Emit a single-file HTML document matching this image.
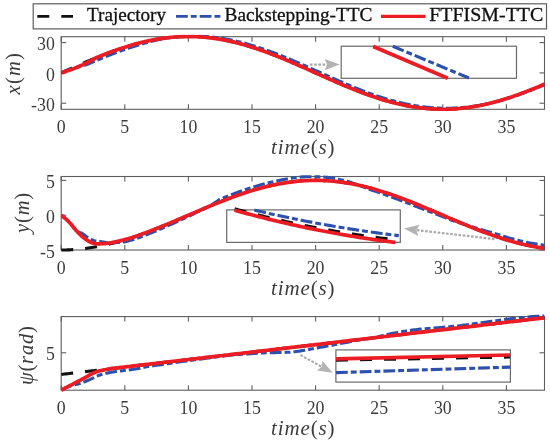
<!DOCTYPE html><html><head><meta charset="utf-8"><style>html,body{margin:0;padding:0;background:#fff;overflow:hidden}svg{display:block}</style></head><body><svg width="550" height="443" viewBox="0 0 550 443">
<rect width="550" height="443" fill="#fff"/>
<defs>
<clipPath id="c0"><rect x="61.2" y="34.7" width="483.3" height="76.6"/></clipPath>
<clipPath id="c1"><rect x="61.2" y="174.5" width="483.3" height="77.5"/></clipPath>
<clipPath id="c2"><rect x="61.2" y="314.6" width="483.3" height="77.59999999999997"/></clipPath>
</defs>
<rect x="61.2" y="36.7" width="483.30" height="72.60" fill="none" stroke="#5e5e5e" stroke-width="1.1"/>
<line x1="61.20" y1="109.3" x2="61.20" y2="104.3" stroke="#5e5e5e" stroke-width="1.1"/>
<line x1="61.20" y1="36.7" x2="61.20" y2="41.7" stroke="#5e5e5e" stroke-width="1.1"/>
<text x="61.20" y="133.20" text-anchor="middle" font-family="Liberation Serif, serif" font-size="17.8" fill="#3c3c3c">0</text>
<line x1="124.80" y1="109.3" x2="124.80" y2="104.3" stroke="#5e5e5e" stroke-width="1.1"/>
<line x1="124.80" y1="36.7" x2="124.80" y2="41.7" stroke="#5e5e5e" stroke-width="1.1"/>
<text x="124.80" y="133.20" text-anchor="middle" font-family="Liberation Serif, serif" font-size="17.8" fill="#3c3c3c">5</text>
<line x1="188.40" y1="109.3" x2="188.40" y2="104.3" stroke="#5e5e5e" stroke-width="1.1"/>
<line x1="188.40" y1="36.7" x2="188.40" y2="41.7" stroke="#5e5e5e" stroke-width="1.1"/>
<text x="188.40" y="133.20" text-anchor="middle" font-family="Liberation Serif, serif" font-size="17.8" fill="#3c3c3c">10</text>
<line x1="252.00" y1="109.3" x2="252.00" y2="104.3" stroke="#5e5e5e" stroke-width="1.1"/>
<line x1="252.00" y1="36.7" x2="252.00" y2="41.7" stroke="#5e5e5e" stroke-width="1.1"/>
<text x="252.00" y="133.20" text-anchor="middle" font-family="Liberation Serif, serif" font-size="17.8" fill="#3c3c3c">15</text>
<line x1="315.60" y1="109.3" x2="315.60" y2="104.3" stroke="#5e5e5e" stroke-width="1.1"/>
<line x1="315.60" y1="36.7" x2="315.60" y2="41.7" stroke="#5e5e5e" stroke-width="1.1"/>
<text x="315.60" y="133.20" text-anchor="middle" font-family="Liberation Serif, serif" font-size="17.8" fill="#3c3c3c">20</text>
<line x1="379.20" y1="109.3" x2="379.20" y2="104.3" stroke="#5e5e5e" stroke-width="1.1"/>
<line x1="379.20" y1="36.7" x2="379.20" y2="41.7" stroke="#5e5e5e" stroke-width="1.1"/>
<text x="379.20" y="133.20" text-anchor="middle" font-family="Liberation Serif, serif" font-size="17.8" fill="#3c3c3c">25</text>
<line x1="442.80" y1="109.3" x2="442.80" y2="104.3" stroke="#5e5e5e" stroke-width="1.1"/>
<line x1="442.80" y1="36.7" x2="442.80" y2="41.7" stroke="#5e5e5e" stroke-width="1.1"/>
<text x="442.80" y="133.20" text-anchor="middle" font-family="Liberation Serif, serif" font-size="17.8" fill="#3c3c3c">30</text>
<line x1="506.40" y1="109.3" x2="506.40" y2="104.3" stroke="#5e5e5e" stroke-width="1.1"/>
<line x1="506.40" y1="36.7" x2="506.40" y2="41.7" stroke="#5e5e5e" stroke-width="1.1"/>
<text x="506.40" y="133.20" text-anchor="middle" font-family="Liberation Serif, serif" font-size="17.8" fill="#3c3c3c">35</text>
<text x="271.1" y="154.10" font-family="Liberation Serif, serif" font-size="21" font-style="italic" fill="#3c3c3c" textLength="63.5" lengthAdjust="spacing">time<tspan font-style="normal">(</tspan>s<tspan font-style="normal">)</tspan></text>
<line x1="61.2" y1="42.60" x2="66.2" y2="42.60" stroke="#5e5e5e" stroke-width="1.1"/>
<line x1="544.5" y1="42.60" x2="539.5" y2="42.60" stroke="#5e5e5e" stroke-width="1.1"/>
<text x="54.8" y="50.20" text-anchor="end" font-family="Liberation Serif, serif" font-size="17.8" fill="#3c3c3c">30</text>
<line x1="61.2" y1="72.90" x2="66.2" y2="72.90" stroke="#5e5e5e" stroke-width="1.1"/>
<line x1="544.5" y1="72.90" x2="539.5" y2="72.90" stroke="#5e5e5e" stroke-width="1.1"/>
<text x="54.8" y="80.50" text-anchor="end" font-family="Liberation Serif, serif" font-size="17.8" fill="#3c3c3c">0</text>
<line x1="61.2" y1="103.20" x2="66.2" y2="103.20" stroke="#5e5e5e" stroke-width="1.1"/>
<line x1="544.5" y1="103.20" x2="539.5" y2="103.20" stroke="#5e5e5e" stroke-width="1.1"/>
<text x="54.8" y="110.80" text-anchor="end" font-family="Liberation Serif, serif" font-size="17.8" fill="#3c3c3c">-30</text>
<g clip-path="url(#c0)" fill="none">
<path d="M61.20,72.90 L62.81,72.18 L64.42,71.45 L66.03,70.73 L67.64,70.01 L69.26,69.29 L70.87,68.57 L72.48,67.85 L74.09,67.14 L75.70,66.42 L77.31,65.71 L78.92,65.01 L80.53,64.30 L82.15,63.60 L83.76,62.90 L85.37,62.21 L86.98,61.52 L88.59,60.83 L90.20,60.15 L91.81,59.48 L93.42,58.81 L95.04,58.15 L96.65,57.49 L98.26,56.84 L99.87,56.19 L101.48,55.55 L103.09,54.92 L104.70,54.29 L106.31,53.68 L107.92,53.07 L109.54,52.46 L111.15,51.87 L112.76,51.28 L114.37,50.71 L115.98,50.14 L117.59,49.58 L119.20,49.03 L120.81,48.49 L122.43,47.95 L124.04,47.43 L125.65,46.92 L127.26,46.42 L128.87,45.93 L130.48,45.45 L132.09,44.98 L133.70,44.52 L135.32,44.08 L136.93,43.64 L138.54,43.22 L140.15,42.81 L141.76,42.41 L143.37,42.02 L144.98,41.64 L146.59,41.28 L148.20,40.93 L149.82,40.59 L151.43,40.26 L153.04,39.95 L154.65,39.65 L156.26,39.37 L157.87,39.09 L159.48,38.83 L161.09,38.59 L162.71,38.36 L164.32,38.14 L165.93,37.93 L167.54,37.74 L169.15,37.56 L170.76,37.40 L172.37,37.25 L173.98,37.11 L175.60,36.99 L177.21,36.89 L178.82,36.79 L180.43,36.72 L182.04,36.65 L183.65,36.60 L185.26,36.57 L186.87,36.55 L188.48,36.54 L190.10,36.55 L191.71,36.57 L193.32,36.61 L194.93,36.66 L196.54,36.72 L198.15,36.80 L199.76,36.90 L201.37,37.01 L202.99,37.13 L204.60,37.26 L206.21,37.42 L207.82,37.58 L209.43,37.76 L211.04,37.95 L212.65,38.16 L214.26,38.38 L215.88,38.61 L217.49,38.86 L219.10,39.12 L220.71,39.40 L222.32,39.68 L223.93,39.98 L225.54,40.30 L227.15,40.62 L228.76,40.96 L230.38,41.32 L231.99,41.68 L233.60,42.06 L235.21,42.45 L236.82,42.85 L238.43,43.26 L240.04,43.69 L241.65,44.12 L243.27,44.57 L244.88,45.03 L246.49,45.50 L248.10,45.98 L249.71,46.47 L251.32,46.98 L252.93,47.49 L254.54,48.01 L256.16,48.54 L257.77,49.08 L259.38,49.64 L260.99,50.20 L262.60,50.77 L264.21,51.34 L265.82,51.93 L267.43,52.53 L269.04,53.13 L270.66,53.74 L272.27,54.36 L273.88,54.98 L275.49,55.62 L277.10,56.26 L278.71,56.90 L280.32,57.56 L281.93,58.22 L283.55,58.88 L285.16,59.55 L286.77,60.23 L288.38,60.91 L289.99,61.59 L291.60,62.28 L293.21,62.98 L294.82,63.67 L296.44,64.37 L298.05,65.08 L299.66,65.79 L301.27,66.50 L302.88,67.21 L304.49,67.93 L306.10,68.65 L307.71,69.36 L309.32,70.09 L310.94,70.81 L312.55,71.53 L314.16,72.25 L315.77,72.98 L317.38,73.70 L318.99,74.42 L320.60,75.15 L322.21,75.87 L323.83,76.59 L325.44,77.31 L327.05,78.02 L328.66,78.74 L330.27,79.45 L331.88,80.16 L333.49,80.87 L335.10,81.57 L336.72,82.27 L338.33,82.97 L339.94,83.66 L341.55,84.35 L343.16,85.04 L344.77,85.72 L346.38,86.39 L347.99,87.06 L349.60,87.72 L351.22,88.38 L352.83,89.03 L354.44,89.68 L356.05,90.32 L357.66,90.95 L359.27,91.57 L360.88,92.19 L362.49,92.80 L364.11,93.40 L365.72,93.99 L367.33,94.58 L368.94,95.16 L370.55,95.72 L372.16,96.28 L373.77,96.83 L375.38,97.37 L377.00,97.90 L378.61,98.42 L380.22,98.93 L381.83,99.43 L383.44,99.92 L385.05,100.40 L386.66,100.87 L388.27,101.32 L389.88,101.77 L391.50,102.20 L393.11,102.63 L394.72,103.04 L396.33,103.44 L397.94,103.82 L399.55,104.20 L401.16,104.56 L402.77,104.91 L404.39,105.24 L406.00,105.57 L407.61,105.88 L409.22,106.18 L410.83,106.46 L412.44,106.73 L414.05,106.99 L415.66,107.24 L417.28,107.47 L418.89,107.69 L420.50,107.89 L422.11,108.08 L423.72,108.26 L425.33,108.42 L426.94,108.57 L428.55,108.70 L430.16,108.82 L431.78,108.92 L433.39,109.01 L435.00,109.09 L436.61,109.15 L438.22,109.20 L439.83,109.24 L441.44,109.25 L443.05,109.26 L444.67,109.25 L446.28,109.23 L447.89,109.19 L449.50,109.14 L451.11,109.07 L452.72,108.99 L454.33,108.89 L455.94,108.78 L457.56,108.66 L459.17,108.52 L460.78,108.37 L462.39,108.20 L464.00,108.02 L465.61,107.83 L467.22,107.62 L468.83,107.40 L470.44,107.16 L472.06,106.91 L473.67,106.65 L475.28,106.37 L476.89,106.09 L478.50,105.78 L480.11,105.47 L481.72,105.14 L483.33,104.80 L484.95,104.45 L486.56,104.08 L488.17,103.70 L489.78,103.31 L491.39,102.91 L493.00,102.49 L494.61,102.07 L496.22,101.63 L497.84,101.18 L499.45,100.72 L501.06,100.25 L502.67,99.77 L504.28,99.27 L505.89,98.77 L507.50,98.26 L509.11,97.73 L510.72,97.20 L512.34,96.66 L513.95,96.11 L515.56,95.54 L517.17,94.97 L518.78,94.39 L520.39,93.81 L522.00,93.21 L523.61,92.61 L525.23,92.00 L526.84,91.38 L528.45,90.75 L530.06,90.12 L531.67,89.47 L533.28,88.83 L534.89,88.17 L536.50,87.51 L538.12,86.85 L539.73,86.18 L541.34,85.50 L542.95,84.82 L544.56,84.14" stroke="#111" stroke-width="3.1" stroke-dasharray="12 12"/>
<path d="M61.20,72.90 L62.81,72.19 L64.42,71.50 L66.03,70.84 L67.64,70.21 L69.26,69.60 L70.87,69.02 L72.48,68.46 L74.09,67.93 L75.70,67.43 L77.31,66.95 L78.92,66.50 L80.53,66.07 L82.15,65.67 L83.76,65.30 L85.37,64.95 L86.98,64.54 L88.59,63.84 L90.20,63.14 L91.81,62.45 L93.42,61.75 L95.04,61.07 L96.65,60.39 L98.26,59.71 L99.87,59.04 L101.48,58.37 L103.09,57.71 L104.70,57.06 L106.31,56.41 L107.92,55.77 L109.54,55.13 L111.15,54.51 L112.76,53.89 L114.37,53.27 L115.98,52.67 L117.59,52.07 L119.20,51.48 L120.81,50.90 L122.43,50.33 L124.04,49.77 L125.65,49.21 L127.26,48.67 L128.87,48.14 L130.48,47.61 L132.09,47.10 L133.70,46.59 L135.32,46.10 L136.93,45.61 L138.54,45.11 L140.15,44.59 L141.76,44.09 L143.37,43.60 L144.98,43.12 L146.59,42.66 L148.20,42.21 L149.82,41.78 L151.43,41.36 L153.04,40.95 L154.65,40.56 L156.26,40.19 L157.87,39.82 L159.48,39.48 L161.09,39.15 L162.71,38.83 L164.32,38.53 L165.93,38.25 L167.54,37.98 L169.15,37.73 L170.76,37.49 L172.37,37.27 L173.98,37.06 L175.60,36.87 L177.21,36.71 L178.82,36.56 L180.43,36.43 L182.04,36.31 L183.65,36.21 L185.26,36.12 L186.87,36.04 L188.48,35.98 L190.10,35.95 L191.71,35.94 L193.32,35.94 L194.93,35.95 L196.54,35.98 L198.15,36.02 L199.76,36.08 L201.37,36.15 L202.99,36.24 L204.60,36.34 L206.21,36.46 L207.82,36.59 L209.43,36.73 L211.04,36.89 L212.65,37.06 L214.26,37.24 L215.88,37.44 L217.49,37.66 L219.10,37.88 L220.71,38.12 L222.32,38.38 L223.93,38.64 L225.54,38.92 L227.15,39.22 L228.76,39.53 L230.38,39.85 L231.99,40.18 L233.60,40.52 L235.21,40.88 L236.82,41.25 L238.43,41.64 L240.04,42.03 L241.65,42.44 L243.27,42.86 L244.88,43.29 L246.49,43.73 L248.10,44.18 L249.71,44.65 L251.32,45.12 L252.93,45.61 L254.54,46.10 L256.16,46.61 L257.77,47.13 L259.38,47.65 L260.99,48.19 L262.60,48.74 L264.21,49.29 L265.82,49.86 L267.43,50.43 L269.04,51.01 L270.66,51.61 L272.27,52.20 L273.88,52.81 L275.49,53.43 L277.10,54.05 L278.71,54.68 L280.32,55.31 L281.93,55.96 L283.55,56.61 L285.16,57.26 L286.77,57.92 L288.38,58.59 L289.99,59.26 L291.60,59.94 L293.21,60.62 L294.82,61.31 L296.44,62.00 L298.05,62.70 L299.66,63.40 L301.27,64.10 L302.88,64.81 L304.49,65.52 L306.10,66.23 L307.71,66.94 L309.32,67.66 L310.94,68.38 L312.55,69.10 L314.16,69.82 L315.77,70.54 L317.38,71.27 L318.99,71.99 L320.60,72.71 L322.21,73.44 L323.83,74.16 L325.44,74.88 L327.05,75.60 L328.66,76.32 L330.27,77.04 L331.88,77.76 L333.49,78.47 L335.10,79.18 L336.72,79.89 L338.33,80.60 L339.94,81.30 L341.55,82.00 L343.16,82.69 L344.77,83.38 L346.38,84.07 L347.99,84.75 L349.60,85.43 L351.22,86.10 L352.83,86.77 L354.44,87.43 L356.05,88.08 L357.66,88.73 L359.27,89.38 L360.88,90.01 L362.49,90.64 L364.11,91.26 L365.72,91.87 L367.33,92.48 L368.94,93.08 L370.55,93.67 L372.16,94.25 L373.77,94.82 L375.38,95.38 L377.00,95.94 L378.61,96.48 L380.22,97.01 L381.83,97.53 L383.44,98.03 L385.05,98.53 L386.66,99.01 L388.27,99.49 L389.88,99.95 L391.50,100.40 L393.11,100.84 L394.72,101.27 L396.33,101.69 L397.94,102.10 L399.55,102.49 L401.16,102.87 L402.77,103.25 L404.39,103.60 L406.00,103.95 L407.61,104.28 L409.22,104.60 L410.83,104.91 L412.44,105.21 L414.05,105.49 L415.66,105.76 L417.28,106.01 L418.89,106.25 L420.50,106.48 L422.11,106.69 L423.72,106.90 L425.33,107.08 L426.94,107.26 L428.55,107.41 L430.16,107.56 L431.78,107.69 L433.39,107.81 L435.00,107.91 L436.61,108.00 L438.22,108.07 L439.83,108.13 L441.44,108.18 L443.05,108.21 L444.67,108.23 L446.28,108.24 L447.89,108.24 L449.50,108.22 L451.11,108.19 L452.72,108.14 L454.33,108.08 L455.94,108.00 L457.56,107.91 L459.17,107.81 L460.78,107.69 L462.39,107.55 L464.00,107.41 L465.61,107.24 L467.22,107.07 L468.83,106.88 L470.44,106.68 L472.06,106.46 L473.67,106.23 L475.28,105.98 L476.89,105.73 L478.50,105.45 L480.11,105.17 L481.72,104.87 L483.33,104.56 L484.95,104.24 L486.56,103.90 L488.17,103.55 L489.78,103.19 L491.39,102.81 L493.00,102.43 L494.61,102.03 L496.22,101.62 L497.84,101.20 L499.45,100.76 L501.06,100.32 L502.67,99.86 L504.28,99.39 L505.89,98.91 L507.50,98.42 L509.11,97.92 L510.72,97.41 L512.34,96.89 L513.95,96.36 L515.56,95.82 L517.17,95.27 L518.78,94.71 L520.39,94.14 L522.00,93.57 L523.61,92.98 L525.23,92.39 L526.84,91.78 L528.45,91.17 L530.06,90.55 L531.67,89.93 L533.28,89.30 L534.89,88.66 L536.50,88.01 L538.12,87.36 L539.73,86.70 L541.34,86.03 L542.95,85.36 L544.56,84.69" stroke="#2c50ac" stroke-width="3.1" stroke-dasharray="11.8 3 5.9 3"/>
<path d="M61.20,72.90 L62.81,72.39 L64.42,71.88 L66.03,71.36 L67.64,70.82 L69.26,70.28 L70.87,69.71 L72.48,69.12 L74.09,68.51 L75.70,67.87 L77.31,67.21 L78.92,66.52 L80.53,65.80 L82.15,65.06 L83.76,64.29 L85.37,63.49 L86.98,62.68 L88.59,61.84 L90.20,60.99 L91.81,60.13 L93.42,59.26 L95.04,58.38 L96.65,57.51 L98.26,56.84 L99.87,56.19 L101.48,55.55 L103.09,54.92 L104.70,54.29 L106.31,53.68 L107.92,53.07 L109.54,52.46 L111.15,51.87 L112.76,51.28 L114.37,50.71 L115.98,50.14 L117.59,49.58 L119.20,49.03 L120.81,48.49 L122.43,47.95 L124.04,47.43 L125.65,46.92 L127.26,46.42 L128.87,45.93 L130.48,45.45 L132.09,44.98 L133.70,44.52 L135.32,44.08 L136.93,43.64 L138.54,43.22 L140.15,42.81 L141.76,42.41 L143.37,42.02 L144.98,41.64 L146.59,41.28 L148.20,40.93 L149.82,40.59 L151.43,40.26 L153.04,39.95 L154.65,39.65 L156.26,39.37 L157.87,39.09 L159.48,38.83 L161.09,38.59 L162.71,38.36 L164.32,38.14 L165.93,37.93 L167.54,37.74 L169.15,37.56 L170.76,37.40 L172.37,37.25 L173.98,37.11 L175.60,36.99 L177.21,36.89 L178.82,36.79 L180.43,36.72 L182.04,36.65 L183.65,36.60 L185.26,36.57 L186.87,36.55 L188.48,36.54 L190.10,36.55 L191.71,36.57 L193.32,36.61 L194.93,36.66 L196.54,36.72 L198.15,36.80 L199.76,36.90 L201.37,37.01 L202.99,37.13 L204.60,37.26 L206.21,37.42 L207.82,37.58 L209.43,37.76 L211.04,37.95 L212.65,38.16 L214.26,38.38 L215.88,38.61 L217.49,38.86 L219.10,39.12 L220.71,39.40 L222.32,39.68 L223.93,39.98 L225.54,40.30 L227.15,40.62 L228.76,40.96 L230.38,41.32 L231.99,41.68 L233.60,42.06 L235.21,42.45 L236.82,42.85 L238.43,43.26 L240.04,43.69 L241.65,44.12 L243.27,44.57 L244.88,45.03 L246.49,45.50 L248.10,45.98 L249.71,46.47 L251.32,46.98 L252.93,47.49 L254.54,48.01 L256.16,48.54 L257.77,49.08 L259.38,49.64 L260.99,50.20 L262.60,50.77 L264.21,51.34 L265.82,51.93 L267.43,52.53 L269.04,53.13 L270.66,53.74 L272.27,54.36 L273.88,54.98 L275.49,55.62 L277.10,56.26 L278.71,56.90 L280.32,57.56 L281.93,58.22 L283.55,58.88 L285.16,59.55 L286.77,60.23 L288.38,60.91 L289.99,61.59 L291.60,62.28 L293.21,62.98 L294.82,63.67 L296.44,64.37 L298.05,65.08 L299.66,65.79 L301.27,66.50 L302.88,67.21 L304.49,67.93 L306.10,68.65 L307.71,69.36 L309.32,70.09 L310.94,70.81 L312.55,71.53 L314.16,72.25 L315.77,72.98 L317.38,73.70 L318.99,74.42 L320.60,75.15 L322.21,75.87 L323.83,76.59 L325.44,77.31 L327.05,78.02 L328.66,78.74 L330.27,79.45 L331.88,80.16 L333.49,80.87 L335.10,81.57 L336.72,82.27 L338.33,82.97 L339.94,83.66 L341.55,84.35 L343.16,85.04 L344.77,85.72 L346.38,86.39 L347.99,87.06 L349.60,87.72 L351.22,88.38 L352.83,89.03 L354.44,89.68 L356.05,90.32 L357.66,90.95 L359.27,91.57 L360.88,92.19 L362.49,92.80 L364.11,93.40 L365.72,93.99 L367.33,94.58 L368.94,95.16 L370.55,95.72 L372.16,96.28 L373.77,96.83 L375.38,97.37 L377.00,97.90 L378.61,98.42 L380.22,98.93 L381.83,99.43 L383.44,99.92 L385.05,100.40 L386.66,100.87 L388.27,101.32 L389.88,101.77 L391.50,102.20 L393.11,102.63 L394.72,103.04 L396.33,103.44 L397.94,103.82 L399.55,104.20 L401.16,104.56 L402.77,104.91 L404.39,105.24 L406.00,105.57 L407.61,105.88 L409.22,106.18 L410.83,106.46 L412.44,106.73 L414.05,106.99 L415.66,107.24 L417.28,107.47 L418.89,107.69 L420.50,107.89 L422.11,108.08 L423.72,108.26 L425.33,108.42 L426.94,108.57 L428.55,108.70 L430.16,108.82 L431.78,108.92 L433.39,109.01 L435.00,109.09 L436.61,109.15 L438.22,109.20 L439.83,109.24 L441.44,109.25 L443.05,109.26 L444.67,109.25 L446.28,109.23 L447.89,109.19 L449.50,109.14 L451.11,109.07 L452.72,108.99 L454.33,108.89 L455.94,108.78 L457.56,108.66 L459.17,108.52 L460.78,108.37 L462.39,108.20 L464.00,108.02 L465.61,107.83 L467.22,107.62 L468.83,107.40 L470.44,107.16 L472.06,106.91 L473.67,106.65 L475.28,106.37 L476.89,106.09 L478.50,105.78 L480.11,105.47 L481.72,105.14 L483.33,104.80 L484.95,104.45 L486.56,104.08 L488.17,103.70 L489.78,103.31 L491.39,102.91 L493.00,102.49 L494.61,102.07 L496.22,101.63 L497.84,101.18 L499.45,100.72 L501.06,100.25 L502.67,99.77 L504.28,99.27 L505.89,98.77 L507.50,98.26 L509.11,97.73 L510.72,97.20 L512.34,96.66 L513.95,96.11 L515.56,95.54 L517.17,94.97 L518.78,94.39 L520.39,93.81 L522.00,93.21 L523.61,92.61 L525.23,92.00 L526.84,91.38 L528.45,90.75 L530.06,90.12 L531.67,89.47 L533.28,88.83 L534.89,88.17 L536.50,87.51 L538.12,86.85 L539.73,86.18 L541.34,85.50 L542.95,84.82 L544.56,84.14" stroke="#ec1c24" stroke-width="3.7"/>
</g>
<rect x="61.2" y="176.5" width="483.30" height="73.50" fill="none" stroke="#5e5e5e" stroke-width="1.1"/>
<line x1="61.20" y1="250.0" x2="61.20" y2="245.0" stroke="#5e5e5e" stroke-width="1.1"/>
<line x1="61.20" y1="176.5" x2="61.20" y2="181.5" stroke="#5e5e5e" stroke-width="1.1"/>
<text x="61.20" y="273.90" text-anchor="middle" font-family="Liberation Serif, serif" font-size="17.8" fill="#3c3c3c">0</text>
<line x1="124.80" y1="250.0" x2="124.80" y2="245.0" stroke="#5e5e5e" stroke-width="1.1"/>
<line x1="124.80" y1="176.5" x2="124.80" y2="181.5" stroke="#5e5e5e" stroke-width="1.1"/>
<text x="124.80" y="273.90" text-anchor="middle" font-family="Liberation Serif, serif" font-size="17.8" fill="#3c3c3c">5</text>
<line x1="188.40" y1="250.0" x2="188.40" y2="245.0" stroke="#5e5e5e" stroke-width="1.1"/>
<line x1="188.40" y1="176.5" x2="188.40" y2="181.5" stroke="#5e5e5e" stroke-width="1.1"/>
<text x="188.40" y="273.90" text-anchor="middle" font-family="Liberation Serif, serif" font-size="17.8" fill="#3c3c3c">10</text>
<line x1="252.00" y1="250.0" x2="252.00" y2="245.0" stroke="#5e5e5e" stroke-width="1.1"/>
<line x1="252.00" y1="176.5" x2="252.00" y2="181.5" stroke="#5e5e5e" stroke-width="1.1"/>
<text x="252.00" y="273.90" text-anchor="middle" font-family="Liberation Serif, serif" font-size="17.8" fill="#3c3c3c">15</text>
<line x1="315.60" y1="250.0" x2="315.60" y2="245.0" stroke="#5e5e5e" stroke-width="1.1"/>
<line x1="315.60" y1="176.5" x2="315.60" y2="181.5" stroke="#5e5e5e" stroke-width="1.1"/>
<text x="315.60" y="273.90" text-anchor="middle" font-family="Liberation Serif, serif" font-size="17.8" fill="#3c3c3c">20</text>
<line x1="379.20" y1="250.0" x2="379.20" y2="245.0" stroke="#5e5e5e" stroke-width="1.1"/>
<line x1="379.20" y1="176.5" x2="379.20" y2="181.5" stroke="#5e5e5e" stroke-width="1.1"/>
<text x="379.20" y="273.90" text-anchor="middle" font-family="Liberation Serif, serif" font-size="17.8" fill="#3c3c3c">25</text>
<line x1="442.80" y1="250.0" x2="442.80" y2="245.0" stroke="#5e5e5e" stroke-width="1.1"/>
<line x1="442.80" y1="176.5" x2="442.80" y2="181.5" stroke="#5e5e5e" stroke-width="1.1"/>
<text x="442.80" y="273.90" text-anchor="middle" font-family="Liberation Serif, serif" font-size="17.8" fill="#3c3c3c">30</text>
<line x1="506.40" y1="250.0" x2="506.40" y2="245.0" stroke="#5e5e5e" stroke-width="1.1"/>
<line x1="506.40" y1="176.5" x2="506.40" y2="181.5" stroke="#5e5e5e" stroke-width="1.1"/>
<text x="506.40" y="273.90" text-anchor="middle" font-family="Liberation Serif, serif" font-size="17.8" fill="#3c3c3c">35</text>
<text x="271.1" y="294.80" font-family="Liberation Serif, serif" font-size="21" font-style="italic" fill="#3c3c3c" textLength="63.5" lengthAdjust="spacing">time<tspan font-style="normal">(</tspan>s<tspan font-style="normal">)</tspan></text>
<line x1="61.2" y1="180.40" x2="66.2" y2="180.40" stroke="#5e5e5e" stroke-width="1.1"/>
<line x1="544.5" y1="180.40" x2="539.5" y2="180.40" stroke="#5e5e5e" stroke-width="1.1"/>
<text x="54.8" y="188.00" text-anchor="end" font-family="Liberation Serif, serif" font-size="17.8" fill="#3c3c3c">5</text>
<line x1="61.2" y1="215.20" x2="66.2" y2="215.20" stroke="#5e5e5e" stroke-width="1.1"/>
<line x1="544.5" y1="215.20" x2="539.5" y2="215.20" stroke="#5e5e5e" stroke-width="1.1"/>
<text x="54.8" y="222.80" text-anchor="end" font-family="Liberation Serif, serif" font-size="17.8" fill="#3c3c3c">0</text>
<line x1="61.2" y1="250.00" x2="66.2" y2="250.00" stroke="#5e5e5e" stroke-width="1.1"/>
<line x1="544.5" y1="250.00" x2="539.5" y2="250.00" stroke="#5e5e5e" stroke-width="1.1"/>
<text x="54.8" y="257.60" text-anchor="end" font-family="Liberation Serif, serif" font-size="17.8" fill="#3c3c3c">-5</text>
<g clip-path="url(#c1)" fill="none">
<path d="M61.20,250.00 L62.81,249.99 L64.42,249.97 L66.03,249.94 L67.64,249.89 L69.26,249.83 L70.87,249.75 L72.48,249.66 L74.09,249.56 L75.70,249.44 L77.31,249.31 L78.92,249.17 L80.53,249.01 L82.15,248.84 L83.76,248.66 L85.37,248.46 L86.98,248.25 L88.59,248.03 L90.20,247.79 L91.81,247.54 L93.42,247.28 L95.04,247.01 L96.65,246.72 L98.26,246.42 L99.87,246.11 L101.48,245.78 L103.09,245.45 L104.70,245.10 L106.31,244.74 L107.92,244.37 L109.54,243.98 L111.15,243.59 L112.76,243.18 L114.37,242.76 L115.98,242.34 L117.59,241.90 L119.20,241.45 L120.81,240.99 L122.43,240.52 L124.04,240.04 L125.65,239.55 L127.26,239.05 L128.87,238.54 L130.48,238.02 L132.09,237.49 L133.70,236.96 L135.32,236.41 L136.93,235.86 L138.54,235.30 L140.15,234.73 L141.76,234.15 L143.37,233.57 L144.98,232.98 L146.59,232.38 L148.20,231.77 L149.82,231.16 L151.43,230.54 L153.04,229.92 L154.65,229.29 L156.26,228.65 L157.87,228.01 L159.48,227.36 L161.09,226.71 L162.71,226.06 L164.32,225.40 L165.93,224.73 L167.54,224.07 L169.15,223.39 L170.76,222.72 L172.37,222.04 L173.98,221.36 L175.60,220.68 L177.21,220.00 L178.82,219.31 L180.43,218.62 L182.04,217.93 L183.65,217.24 L185.26,216.55 L186.87,215.86 L188.48,215.16 L190.10,214.47 L191.71,213.78 L193.32,213.09 L194.93,212.40 L196.54,211.71 L198.15,211.02 L199.76,210.33 L201.37,209.65 L202.99,208.97 L204.60,208.29 L206.21,207.61 L207.82,206.93 L209.43,206.26 L211.04,205.60 L212.65,204.93 L214.26,204.27 L215.88,203.62 L217.49,202.97 L219.10,202.32 L220.71,201.68 L222.32,201.05 L223.93,200.42 L225.54,199.79 L227.15,199.17 L228.76,198.56 L230.38,197.96 L231.99,197.36 L233.60,196.77 L235.21,196.19 L236.82,195.61 L238.43,195.04 L240.04,194.48 L241.65,193.93 L243.27,193.38 L244.88,192.85 L246.49,192.32 L248.10,191.81 L249.71,191.30 L251.32,190.80 L252.93,190.31 L254.54,189.83 L256.16,189.36 L257.77,188.90 L259.38,188.46 L260.99,188.02 L262.60,187.59 L264.21,187.18 L265.82,186.77 L267.43,186.38 L269.04,185.99 L270.66,185.62 L272.27,185.26 L273.88,184.92 L275.49,184.58 L277.10,184.26 L278.71,183.95 L280.32,183.65 L281.93,183.36 L283.55,183.09 L285.16,182.83 L286.77,182.58 L288.38,182.35 L289.99,182.13 L291.60,181.92 L293.21,181.72 L294.82,181.54 L296.44,181.37 L298.05,181.21 L299.66,181.07 L301.27,180.94 L302.88,180.83 L304.49,180.73 L306.10,180.64 L307.71,180.56 L309.32,180.50 L310.94,180.46 L312.55,180.42 L314.16,180.41 L315.77,180.40 L317.38,180.41 L318.99,180.43 L320.60,180.47 L322.21,180.52 L323.83,180.58 L325.44,180.66 L327.05,180.75 L328.66,180.85 L330.27,180.97 L331.88,181.10 L333.49,181.25 L335.10,181.40 L336.72,181.58 L338.33,181.76 L339.94,181.96 L341.55,182.17 L343.16,182.40 L344.77,182.63 L346.38,182.88 L347.99,183.15 L349.60,183.42 L351.22,183.71 L352.83,184.01 L354.44,184.33 L356.05,184.65 L357.66,184.99 L359.27,185.34 L360.88,185.70 L362.49,186.07 L364.11,186.46 L365.72,186.85 L367.33,187.26 L368.94,187.68 L370.55,188.11 L372.16,188.55 L373.77,189.00 L375.38,189.46 L377.00,189.93 L378.61,190.41 L380.22,190.90 L381.83,191.40 L383.44,191.91 L385.05,192.43 L386.66,192.96 L388.27,193.50 L389.88,194.04 L391.50,194.60 L393.11,195.16 L394.72,195.73 L396.33,196.31 L397.94,196.89 L399.55,197.49 L401.16,198.08 L402.77,198.69 L404.39,199.30 L406.00,199.92 L407.61,200.55 L409.22,201.18 L410.83,201.82 L412.44,202.46 L414.05,203.10 L415.66,203.76 L417.28,204.41 L418.89,205.07 L420.50,205.74 L422.11,206.40 L423.72,207.08 L425.33,207.75 L426.94,208.43 L428.55,209.11 L430.16,209.79 L431.78,210.48 L433.39,211.16 L435.00,211.85 L436.61,212.54 L438.22,213.23 L439.83,213.92 L441.44,214.62 L443.05,215.31 L444.67,216.00 L446.28,216.69 L447.89,217.39 L449.50,218.08 L451.11,218.77 L452.72,219.45 L454.33,220.14 L455.94,220.82 L457.56,221.51 L459.17,222.19 L460.78,222.86 L462.39,223.54 L464.00,224.21 L465.61,224.87 L467.22,225.54 L468.83,226.20 L470.44,226.85 L472.06,227.50 L473.67,228.15 L475.28,228.79 L476.89,229.42 L478.50,230.05 L480.11,230.67 L481.72,231.29 L483.33,231.90 L484.95,232.51 L486.56,233.10 L488.17,233.69 L489.78,234.28 L491.39,234.85 L493.00,235.42 L494.61,235.98 L496.22,236.53 L497.84,237.07 L499.45,237.61 L501.06,238.13 L502.67,238.65 L504.28,239.15 L505.89,239.65 L507.50,240.14 L509.11,240.62 L510.72,241.09 L512.34,241.54 L513.95,241.99 L515.56,242.43 L517.17,242.85 L518.78,243.27 L520.39,243.67 L522.00,244.06 L523.61,244.45 L525.23,244.81 L526.84,245.17 L528.45,245.52 L530.06,245.85 L531.67,246.17 L533.28,246.48 L534.89,246.78 L536.50,247.07 L538.12,247.34 L539.73,247.60 L541.34,247.84 L542.95,248.08 L544.56,248.30" stroke="#111" stroke-width="3.1" stroke-dasharray="12 12"/>
<path d="M61.20,215.20 L62.81,216.43 L64.42,217.76 L66.03,219.19 L67.64,220.70 L69.26,222.29 L70.87,224.03 L72.48,225.97 L74.09,227.98 L75.70,229.93 L77.31,231.24 L78.92,232.05 L80.53,232.80 L82.15,233.44 L83.76,234.47 L85.37,235.74 L86.98,236.95 L88.59,238.04 L90.20,238.97 L91.81,239.69 L93.42,240.35 L95.04,240.90 L96.65,241.21 L98.26,241.29 L99.87,241.44 L101.48,241.76 L103.09,242.06 L104.70,242.34 L106.31,242.62 L107.92,242.84 L109.54,243.01 L111.15,242.96 L112.76,242.88 L114.37,242.77 L115.98,242.64 L117.59,242.50 L119.20,242.36 L120.81,242.22 L122.43,242.08 L124.04,241.90 L125.65,241.61 L127.26,241.20 L128.87,240.78 L130.48,240.34 L132.09,239.89 L133.70,239.42 L135.32,238.93 L136.93,238.42 L138.54,237.85 L140.15,237.24 L141.76,236.61 L143.37,235.97 L144.98,235.33 L146.59,234.70 L148.20,234.06 L149.82,233.42 L151.43,232.77 L153.04,232.11 L154.65,231.45 L156.26,230.78 L157.87,230.11 L159.48,229.43 L161.09,228.75 L162.71,228.06 L164.32,227.36 L165.93,226.64 L167.54,225.92 L169.15,225.20 L170.76,224.47 L172.37,223.75 L173.98,223.02 L175.60,222.28 L177.21,221.55 L178.82,220.81 L180.43,220.07 L182.04,219.33 L183.65,218.59 L185.26,217.85 L186.87,217.10 L188.48,216.36 L190.10,215.58 L191.71,214.80 L193.32,214.01 L194.93,213.23 L196.54,212.46 L198.15,211.68 L199.76,210.90 L201.37,210.13 L202.99,209.36 L204.60,208.59 L206.21,207.82 L207.82,207.06 L209.43,206.30 L211.04,205.33 L212.65,204.24 L214.26,203.15 L215.88,202.07 L217.49,200.99 L219.10,199.91 L220.71,198.98 L222.32,198.32 L223.93,197.68 L225.54,197.04 L227.15,196.41 L228.76,195.78 L230.38,195.16 L231.99,194.53 L233.60,193.90 L235.21,193.28 L236.82,192.67 L238.43,192.07 L240.04,191.48 L241.65,190.89 L243.27,190.31 L244.88,189.75 L246.49,189.19 L248.10,188.63 L249.71,188.10 L251.32,187.59 L252.93,187.10 L254.54,186.61 L256.16,186.14 L257.77,185.67 L259.38,185.22 L260.99,184.77 L262.60,184.34 L264.21,183.92 L265.82,183.51 L267.43,183.11 L269.04,182.72 L270.66,182.34 L272.27,181.98 L273.88,181.62 L275.49,181.27 L277.10,180.90 L278.71,180.54 L280.32,180.20 L281.93,179.87 L283.55,179.55 L285.16,179.25 L286.77,178.96 L288.38,178.68 L289.99,178.41 L291.60,178.16 L293.21,177.92 L294.82,177.69 L296.44,177.48 L298.05,177.28 L299.66,177.09 L301.27,176.97 L302.88,176.89 L304.49,176.83 L306.10,176.78 L307.71,176.74 L309.32,176.72 L310.94,176.71 L312.55,176.72 L314.16,176.74 L315.77,176.77 L317.38,176.82 L318.99,176.88 L320.60,176.95 L322.21,177.04 L323.83,177.14 L325.44,177.26 L327.05,177.39 L328.66,177.53 L330.27,177.73 L331.88,178.02 L333.49,178.31 L335.10,178.62 L336.72,178.95 L338.33,179.29 L339.94,179.64 L341.55,180.00 L343.16,180.38 L344.77,180.77 L346.38,181.17 L347.99,181.58 L349.60,182.06 L351.22,182.59 L352.83,183.13 L354.44,183.68 L356.05,184.24 L357.66,184.81 L359.27,185.40 L360.88,186.00 L362.49,186.61 L364.11,187.23 L365.72,187.87 L367.33,188.51 L368.94,189.17 L370.55,189.68 L372.16,190.19 L373.77,190.71 L375.38,191.24 L377.00,191.78 L378.61,192.33 L380.22,192.89 L381.83,193.46 L383.44,194.04 L385.05,194.63 L386.66,195.23 L388.27,195.84 L389.88,196.46 L391.50,197.08 L393.11,197.66 L394.72,198.23 L396.33,198.81 L397.94,199.39 L399.55,199.99 L401.16,200.58 L402.77,201.19 L404.39,201.80 L406.00,202.42 L407.61,203.05 L409.22,203.68 L410.83,204.32 L412.44,204.96 L414.05,205.60 L415.66,206.26 L417.28,206.91 L418.89,207.51 L420.50,208.11 L422.11,208.72 L423.72,209.33 L425.33,209.94 L426.94,210.55 L428.55,211.17 L430.16,211.79 L431.78,212.41 L433.39,213.03 L435.00,213.66 L436.61,214.29 L438.22,214.91 L439.83,215.54 L441.44,216.17 L443.05,216.80 L444.67,217.43 L446.28,218.06 L447.89,218.69 L449.50,219.31 L451.11,219.94 L452.72,220.56 L454.33,221.19 L455.94,221.78 L457.56,222.29 L459.17,222.80 L460.78,223.31 L462.39,223.82 L464.00,224.32 L465.61,224.82 L467.22,225.31 L468.83,225.80 L470.44,226.29 L472.06,226.77 L473.67,227.24 L475.28,227.73 L476.89,228.24 L478.50,228.74 L480.11,229.24 L481.72,229.73 L483.33,230.21 L484.95,230.69 L486.56,231.16 L488.17,231.63 L489.78,232.08 L491.39,232.53 L493.00,232.97 L494.61,233.47 L496.22,234.00 L497.84,234.53 L499.45,235.05 L501.06,235.56 L502.67,236.06 L504.28,236.55 L505.89,237.03 L507.50,237.50 L509.11,237.97 L510.72,238.42 L512.34,238.86 L513.95,239.29 L515.56,239.71 L517.17,240.12 L518.78,240.52 L520.39,240.91 L522.00,241.29 L523.61,241.65 L525.23,242.00 L526.84,242.35 L528.45,242.68 L530.06,242.99 L531.67,243.30 L533.28,243.59 L534.89,243.88 L536.50,244.14 L538.12,244.40 L539.73,244.64 L541.34,244.87 L542.95,245.09 L544.56,245.30" stroke="#2c50ac" stroke-width="3.1" stroke-dasharray="11.8 3 5.9 3"/>
<path d="M61.20,215.20 L62.81,216.43 L64.42,217.76 L66.03,219.19 L67.64,220.70 L69.26,222.29 L70.87,224.03 L72.48,225.97 L74.09,227.98 L75.70,229.93 L77.31,231.70 L78.92,233.40 L80.53,235.04 L82.15,236.57 L83.76,237.91 L85.37,239.09 L86.98,240.20 L88.59,241.19 L90.20,242.02 L91.81,242.65 L93.42,243.21 L95.04,243.67 L96.65,243.87 L98.26,243.86 L99.87,243.81 L101.48,243.73 L103.09,243.64 L104.70,243.53 L106.31,243.41 L107.92,243.24 L109.54,243.01 L111.15,242.73 L112.76,242.42 L114.37,242.07 L115.98,241.71 L117.59,241.34 L119.20,240.96 L120.81,240.60 L122.43,240.22 L124.04,239.81 L125.65,239.39 L127.26,238.94 L128.87,238.48 L130.48,238.00 L132.09,237.52 L133.70,237.01 L135.32,236.48 L136.93,235.94 L138.54,235.37 L140.15,234.79 L141.76,234.20 L143.37,233.58 L144.98,232.98 L146.59,232.38 L148.20,231.77 L149.82,231.16 L151.43,230.54 L153.04,229.92 L154.65,229.29 L156.26,228.65 L157.87,228.01 L159.48,227.36 L161.09,226.71 L162.71,226.06 L164.32,225.40 L165.93,224.73 L167.54,224.07 L169.15,223.39 L170.76,222.72 L172.37,222.04 L173.98,221.36 L175.60,220.68 L177.21,220.00 L178.82,219.31 L180.43,218.62 L182.04,217.93 L183.65,217.24 L185.26,216.55 L186.87,215.86 L188.48,215.16 L190.10,214.47 L191.71,213.78 L193.32,213.09 L194.93,212.40 L196.54,211.71 L198.15,211.02 L199.76,210.33 L201.37,209.65 L202.99,208.97 L204.60,208.29 L206.21,207.61 L207.82,206.93 L209.43,206.26 L211.04,205.60 L212.65,204.93 L214.26,204.27 L215.88,203.62 L217.49,202.97 L219.10,202.32 L220.71,201.68 L222.32,201.05 L223.93,200.42 L225.54,199.79 L227.15,199.17 L228.76,198.56 L230.38,197.96 L231.99,197.36 L233.60,196.77 L235.21,196.19 L236.82,195.61 L238.43,195.04 L240.04,194.48 L241.65,193.93 L243.27,193.38 L244.88,192.85 L246.49,192.32 L248.10,191.81 L249.71,191.30 L251.32,190.80 L252.93,190.31 L254.54,189.83 L256.16,189.36 L257.77,188.90 L259.38,188.46 L260.99,188.02 L262.60,187.59 L264.21,187.18 L265.82,186.77 L267.43,186.38 L269.04,185.99 L270.66,185.62 L272.27,185.26 L273.88,184.92 L275.49,184.58 L277.10,184.26 L278.71,183.95 L280.32,183.65 L281.93,183.36 L283.55,183.09 L285.16,182.83 L286.77,182.58 L288.38,182.35 L289.99,182.13 L291.60,181.92 L293.21,181.72 L294.82,181.54 L296.44,181.37 L298.05,181.21 L299.66,181.07 L301.27,180.94 L302.88,180.83 L304.49,180.73 L306.10,180.64 L307.71,180.56 L309.32,180.50 L310.94,180.46 L312.55,180.42 L314.16,180.41 L315.77,180.40 L317.38,180.41 L318.99,180.43 L320.60,180.47 L322.21,180.52 L323.83,180.58 L325.44,180.66 L327.05,180.75 L328.66,180.85 L330.27,180.97 L331.88,181.10 L333.49,181.25 L335.10,181.40 L336.72,181.58 L338.33,181.76 L339.94,181.96 L341.55,182.17 L343.16,182.40 L344.77,182.63 L346.38,182.88 L347.99,183.15 L349.60,183.42 L351.22,183.71 L352.83,184.01 L354.44,184.33 L356.05,184.65 L357.66,184.99 L359.27,185.34 L360.88,185.70 L362.49,186.07 L364.11,186.46 L365.72,186.85 L367.33,187.26 L368.94,187.68 L370.55,188.11 L372.16,188.55 L373.77,189.00 L375.38,189.46 L377.00,189.93 L378.61,190.41 L380.22,190.90 L381.83,191.40 L383.44,191.91 L385.05,192.43 L386.66,192.96 L388.27,193.50 L389.88,194.04 L391.50,194.60 L393.11,195.16 L394.72,195.73 L396.33,196.31 L397.94,196.89 L399.55,197.49 L401.16,198.08 L402.77,198.69 L404.39,199.30 L406.00,199.92 L407.61,200.55 L409.22,201.18 L410.83,201.82 L412.44,202.46 L414.05,203.10 L415.66,203.76 L417.28,204.41 L418.89,205.07 L420.50,205.74 L422.11,206.40 L423.72,207.08 L425.33,207.75 L426.94,208.43 L428.55,209.11 L430.16,209.79 L431.78,210.48 L433.39,211.16 L435.00,211.85 L436.61,212.54 L438.22,213.23 L439.83,213.92 L441.44,214.62 L443.05,215.31 L444.67,216.00 L446.28,216.69 L447.89,217.39 L449.50,218.08 L451.11,218.77 L452.72,219.45 L454.33,220.14 L455.94,220.82 L457.56,221.51 L459.17,222.19 L460.78,222.86 L462.39,223.54 L464.00,224.21 L465.61,224.87 L467.22,225.54 L468.83,226.20 L470.44,226.85 L472.06,227.50 L473.67,228.15 L475.28,228.79 L476.89,229.42 L478.50,230.05 L480.11,230.67 L481.72,231.29 L483.33,231.90 L484.95,232.51 L486.56,233.10 L488.17,233.69 L489.78,234.28 L491.39,234.85 L493.00,235.42 L494.61,235.98 L496.22,236.53 L497.84,237.07 L499.45,237.61 L501.06,238.13 L502.67,238.65 L504.28,239.15 L505.89,239.65 L507.50,240.14 L509.11,240.62 L510.72,241.09 L512.34,241.54 L513.95,241.99 L515.56,242.43 L517.17,242.85 L518.78,243.27 L520.39,243.67 L522.00,244.06 L523.61,244.45 L525.23,244.81 L526.84,245.17 L528.45,245.52 L530.06,245.85 L531.67,246.17 L533.28,246.48 L534.89,246.78 L536.50,247.07 L538.12,247.34 L539.73,247.60 L541.34,247.84 L542.95,248.08 L544.56,248.30" stroke="#ec1c24" stroke-width="3.7"/>
</g>
<rect x="61.2" y="316.6" width="483.30" height="73.60" fill="none" stroke="#5e5e5e" stroke-width="1.1"/>
<line x1="61.20" y1="390.2" x2="61.20" y2="385.2" stroke="#5e5e5e" stroke-width="1.1"/>
<line x1="61.20" y1="316.6" x2="61.20" y2="321.6" stroke="#5e5e5e" stroke-width="1.1"/>
<text x="61.20" y="414.10" text-anchor="middle" font-family="Liberation Serif, serif" font-size="17.8" fill="#3c3c3c">0</text>
<line x1="124.80" y1="390.2" x2="124.80" y2="385.2" stroke="#5e5e5e" stroke-width="1.1"/>
<line x1="124.80" y1="316.6" x2="124.80" y2="321.6" stroke="#5e5e5e" stroke-width="1.1"/>
<text x="124.80" y="414.10" text-anchor="middle" font-family="Liberation Serif, serif" font-size="17.8" fill="#3c3c3c">5</text>
<line x1="188.40" y1="390.2" x2="188.40" y2="385.2" stroke="#5e5e5e" stroke-width="1.1"/>
<line x1="188.40" y1="316.6" x2="188.40" y2="321.6" stroke="#5e5e5e" stroke-width="1.1"/>
<text x="188.40" y="414.10" text-anchor="middle" font-family="Liberation Serif, serif" font-size="17.8" fill="#3c3c3c">10</text>
<line x1="252.00" y1="390.2" x2="252.00" y2="385.2" stroke="#5e5e5e" stroke-width="1.1"/>
<line x1="252.00" y1="316.6" x2="252.00" y2="321.6" stroke="#5e5e5e" stroke-width="1.1"/>
<text x="252.00" y="414.10" text-anchor="middle" font-family="Liberation Serif, serif" font-size="17.8" fill="#3c3c3c">15</text>
<line x1="315.60" y1="390.2" x2="315.60" y2="385.2" stroke="#5e5e5e" stroke-width="1.1"/>
<line x1="315.60" y1="316.6" x2="315.60" y2="321.6" stroke="#5e5e5e" stroke-width="1.1"/>
<text x="315.60" y="414.10" text-anchor="middle" font-family="Liberation Serif, serif" font-size="17.8" fill="#3c3c3c">20</text>
<line x1="379.20" y1="390.2" x2="379.20" y2="385.2" stroke="#5e5e5e" stroke-width="1.1"/>
<line x1="379.20" y1="316.6" x2="379.20" y2="321.6" stroke="#5e5e5e" stroke-width="1.1"/>
<text x="379.20" y="414.10" text-anchor="middle" font-family="Liberation Serif, serif" font-size="17.8" fill="#3c3c3c">25</text>
<line x1="442.80" y1="390.2" x2="442.80" y2="385.2" stroke="#5e5e5e" stroke-width="1.1"/>
<line x1="442.80" y1="316.6" x2="442.80" y2="321.6" stroke="#5e5e5e" stroke-width="1.1"/>
<text x="442.80" y="414.10" text-anchor="middle" font-family="Liberation Serif, serif" font-size="17.8" fill="#3c3c3c">30</text>
<line x1="506.40" y1="390.2" x2="506.40" y2="385.2" stroke="#5e5e5e" stroke-width="1.1"/>
<line x1="506.40" y1="316.6" x2="506.40" y2="321.6" stroke="#5e5e5e" stroke-width="1.1"/>
<text x="506.40" y="414.10" text-anchor="middle" font-family="Liberation Serif, serif" font-size="17.8" fill="#3c3c3c">35</text>
<text x="271.1" y="435.00" font-family="Liberation Serif, serif" font-size="21" font-style="italic" fill="#3c3c3c" textLength="63.5" lengthAdjust="spacing">time<tspan font-style="normal">(</tspan>s<tspan font-style="normal">)</tspan></text>
<line x1="61.2" y1="352.80" x2="66.2" y2="352.80" stroke="#5e5e5e" stroke-width="1.1"/>
<line x1="544.5" y1="352.80" x2="539.5" y2="352.80" stroke="#5e5e5e" stroke-width="1.1"/>
<text x="54.8" y="360.40" text-anchor="end" font-family="Liberation Serif, serif" font-size="17.8" fill="#3c3c3c">5</text>
<g clip-path="url(#c2)" fill="none">
<path d="M61.20,374.45 L62.81,374.26 L64.42,374.07 L66.03,373.88 L67.64,373.69 L69.26,373.50 L70.87,373.31 L72.48,373.13 L74.09,372.94 L75.70,372.75 L77.31,372.56 L78.92,372.37 L80.53,372.18 L82.15,371.99 L83.76,371.80 L85.37,371.61 L86.98,371.43 L88.59,371.24 L90.20,371.05 L91.81,370.86 L93.42,370.67 L95.04,370.48 L96.65,370.29 L98.26,370.10 L99.87,369.91 L101.48,369.73 L103.09,369.54 L104.70,369.35 L106.31,369.16 L107.92,368.97 L109.54,368.78 L111.15,368.59 L112.76,368.40 L114.37,368.22 L115.98,368.03 L117.59,367.84 L119.20,367.65 L120.81,367.46 L122.43,367.27 L124.04,367.08 L125.65,366.89 L127.26,366.70 L128.87,366.52 L130.48,366.33 L132.09,366.14 L133.70,365.95 L135.32,365.76 L136.93,365.57 L138.54,365.38 L140.15,365.19 L141.76,365.01 L143.37,364.82 L144.98,364.63 L146.59,364.44 L148.20,364.25 L149.82,364.06 L151.43,363.87 L153.04,363.68 L154.65,363.49 L156.26,363.31 L157.87,363.12 L159.48,362.93 L161.09,362.74 L162.71,362.55 L164.32,362.36 L165.93,362.17 L167.54,361.98 L169.15,361.80 L170.76,361.61 L172.37,361.42 L173.98,361.23 L175.60,361.04 L177.21,360.85 L178.82,360.66 L180.43,360.47 L182.04,360.28 L183.65,360.10 L185.26,359.91 L186.87,359.72 L188.48,359.53 L190.10,359.34 L191.71,359.15 L193.32,358.96 L194.93,358.77 L196.54,358.58 L198.15,358.40 L199.76,358.21 L201.37,358.02 L202.99,357.83 L204.60,357.64 L206.21,357.45 L207.82,357.26 L209.43,357.07 L211.04,356.89 L212.65,356.70 L214.26,356.51 L215.88,356.32 L217.49,356.13 L219.10,355.94 L220.71,355.75 L222.32,355.56 L223.93,355.37 L225.54,355.19 L227.15,355.00 L228.76,354.81 L230.38,354.62 L231.99,354.43 L233.60,354.24 L235.21,354.05 L236.82,353.86 L238.43,353.68 L240.04,353.49 L241.65,353.30 L243.27,353.11 L244.88,352.92 L246.49,352.73 L248.10,352.54 L249.71,352.35 L251.32,352.16 L252.93,351.98 L254.54,351.79 L256.16,351.60 L257.77,351.41 L259.38,351.22 L260.99,351.03 L262.60,350.84 L264.21,350.65 L265.82,350.47 L267.43,350.28 L269.04,350.09 L270.66,349.90 L272.27,349.71 L273.88,349.52 L275.49,349.33 L277.10,349.14 L278.71,348.95 L280.32,348.77 L281.93,348.58 L283.55,348.39 L285.16,348.20 L286.77,348.01 L288.38,347.82 L289.99,347.63 L291.60,347.44 L293.21,347.25 L294.82,347.07 L296.44,346.88 L298.05,346.69 L299.66,346.50 L301.27,346.31 L302.88,346.12 L304.49,345.93 L306.10,345.74 L307.71,345.56 L309.32,345.37 L310.94,345.18 L312.55,344.99 L314.16,344.80 L315.77,344.61 L317.38,344.42 L318.99,344.23 L320.60,344.04 L322.21,343.86 L323.83,343.67 L325.44,343.48 L327.05,343.29 L328.66,343.10 L330.27,342.91 L331.88,342.72 L333.49,342.53 L335.10,342.35 L336.72,342.16 L338.33,341.97 L339.94,341.78 L341.55,341.59 L343.16,341.40 L344.77,341.21 L346.38,341.02 L347.99,340.83 L349.60,340.65 L351.22,340.46 L352.83,340.27 L354.44,340.08 L356.05,339.89 L357.66,339.70 L359.27,339.51 L360.88,339.32 L362.49,339.14 L364.11,338.95 L365.72,338.76 L367.33,338.57 L368.94,338.38 L370.55,338.19 L372.16,338.00 L373.77,337.81 L375.38,337.62 L377.00,337.44 L378.61,337.25 L380.22,337.06 L381.83,336.87 L383.44,336.68 L385.05,336.49 L386.66,336.30 L388.27,336.11 L389.88,335.93 L391.50,335.74 L393.11,335.55 L394.72,335.36 L396.33,335.17 L397.94,334.98 L399.55,334.79 L401.16,334.60 L402.77,334.41 L404.39,334.23 L406.00,334.04 L407.61,333.85 L409.22,333.66 L410.83,333.47 L412.44,333.28 L414.05,333.09 L415.66,332.90 L417.28,332.71 L418.89,332.53 L420.50,332.34 L422.11,332.15 L423.72,331.96 L425.33,331.77 L426.94,331.58 L428.55,331.39 L430.16,331.20 L431.78,331.02 L433.39,330.83 L435.00,330.64 L436.61,330.45 L438.22,330.26 L439.83,330.07 L441.44,329.88 L443.05,329.69 L444.67,329.50 L446.28,329.32 L447.89,329.13 L449.50,328.94 L451.11,328.75 L452.72,328.56 L454.33,328.37 L455.94,328.18 L457.56,327.99 L459.17,327.81 L460.78,327.62 L462.39,327.43 L464.00,327.24 L465.61,327.05 L467.22,326.86 L468.83,326.67 L470.44,326.48 L472.06,326.29 L473.67,326.11 L475.28,325.92 L476.89,325.73 L478.50,325.54 L480.11,325.35 L481.72,325.16 L483.33,324.97 L484.95,324.78 L486.56,324.60 L488.17,324.41 L489.78,324.22 L491.39,324.03 L493.00,323.84 L494.61,323.65 L496.22,323.46 L497.84,323.27 L499.45,323.08 L501.06,322.90 L502.67,322.71 L504.28,322.52 L505.89,322.33 L507.50,322.14 L509.11,321.95 L510.72,321.76 L512.34,321.57 L513.95,321.38 L515.56,321.20 L517.17,321.01 L518.78,320.82 L520.39,320.63 L522.00,320.44 L523.61,320.25 L525.23,320.06 L526.84,319.87 L528.45,319.69 L530.06,319.50 L531.67,319.31 L533.28,319.12 L534.89,318.93 L536.50,318.74 L538.12,318.55 L539.73,318.36 L541.34,318.17 L542.95,317.99 L544.56,317.80" stroke="#111" stroke-width="3.1" stroke-dasharray="12 12"/>
<path d="M61.20,390.23 L62.81,389.31 L64.42,388.43 L66.03,387.62 L67.64,386.89 L69.26,386.26 L70.87,385.73 L72.48,385.30 L74.09,384.92 L75.70,384.57 L77.31,384.21 L78.92,383.80 L80.53,383.30 L82.15,382.74 L83.76,382.13 L85.37,381.47 L86.98,380.80 L88.59,380.11 L90.20,379.43 L91.81,378.69 L93.42,377.90 L95.04,377.10 L96.65,376.33 L98.26,375.63 L99.87,375.04 L101.48,374.54 L103.09,374.08 L104.70,373.66 L106.31,373.26 L107.92,372.90 L109.54,372.57 L111.15,372.26 L112.76,371.99 L114.37,371.74 L115.98,371.50 L117.59,371.29 L119.20,371.08 L120.81,370.88 L122.43,370.69 L124.04,370.49 L125.65,370.28 L127.26,370.08 L128.87,369.89 L130.48,369.70 L132.09,369.51 L133.70,369.29 L135.32,369.05 L136.93,368.77 L138.54,368.47 L140.15,368.14 L141.76,367.79 L143.37,367.42 L144.98,367.03 L146.59,366.78 L148.20,366.52 L149.82,366.27 L151.43,366.03 L153.04,365.80 L154.65,365.56 L156.26,365.33 L157.87,365.09 L159.48,364.86 L161.09,364.62 L162.71,364.39 L164.32,364.15 L165.93,363.92 L167.54,363.68 L169.15,363.45 L170.76,363.21 L172.37,362.98 L173.98,362.74 L175.60,362.51 L177.21,362.27 L178.82,362.04 L180.43,361.80 L182.04,361.57 L183.65,361.33 L185.26,361.10 L186.87,360.86 L188.48,360.63 L190.10,360.39 L191.71,360.16 L193.32,359.95 L194.93,359.74 L196.54,359.53 L198.15,359.32 L199.76,359.11 L201.37,358.90 L202.99,358.69 L204.60,358.48 L206.21,358.26 L207.82,358.05 L209.43,357.84 L211.04,357.63 L212.65,357.42 L214.26,357.21 L215.88,357.00 L217.49,356.79 L219.10,356.58 L220.71,356.37 L222.32,356.16 L223.93,355.95 L225.54,355.74 L227.15,355.53 L228.76,355.32 L230.38,355.14 L231.99,355.02 L233.60,354.90 L235.21,354.78 L236.82,354.66 L238.43,354.54 L240.04,354.42 L241.65,354.30 L243.27,354.18 L244.88,354.06 L246.49,353.95 L248.10,353.83 L249.71,353.71 L251.32,353.59 L252.93,353.47 L254.54,353.35 L256.16,353.23 L257.77,353.11 L259.38,352.99 L260.99,352.92 L262.60,352.89 L264.21,352.85 L265.82,352.81 L267.43,352.77 L269.04,352.73 L270.66,352.69 L272.27,352.65 L273.88,352.62 L275.49,352.58 L277.10,352.54 L278.71,352.50 L280.32,352.46 L281.93,352.42 L283.55,352.39 L285.16,352.35 L286.77,352.31 L288.38,352.27 L289.99,352.23 L291.60,352.04 L293.21,351.85 L294.82,351.67 L296.44,351.48 L298.05,351.29 L299.66,351.10 L301.27,350.83 L302.88,350.53 L304.49,350.23 L306.10,349.94 L307.71,349.64 L309.32,349.35 L310.94,349.05 L312.55,348.75 L314.16,348.46 L315.77,348.16 L317.38,347.86 L318.99,347.57 L320.60,347.27 L322.21,346.98 L323.83,346.68 L325.44,346.38 L327.05,346.09 L328.66,345.79 L330.27,345.49 L331.88,345.19 L333.49,344.88 L335.10,344.57 L336.72,344.26 L338.33,343.96 L339.94,343.65 L341.55,343.34 L343.16,343.04 L344.77,342.73 L346.38,342.42 L347.99,342.12 L349.60,341.81 L351.22,341.50 L352.83,341.19 L354.44,340.89 L356.05,340.58 L357.66,340.27 L359.27,339.97 L360.88,339.70 L362.49,339.46 L364.11,339.22 L365.72,338.98 L367.33,338.74 L368.94,338.50 L370.55,338.27 L372.16,338.03 L373.77,337.72 L375.38,337.34 L377.00,336.97 L378.61,336.59 L380.22,336.21 L381.83,335.83 L383.44,335.45 L385.05,335.07 L386.66,334.70 L388.27,334.32 L389.88,333.94 L391.50,333.64 L393.11,333.34 L394.72,333.04 L396.33,332.75 L397.94,332.45 L399.55,332.16 L401.16,331.86 L402.77,331.56 L404.39,331.27 L406.00,331.02 L407.61,330.80 L409.22,330.57 L410.83,330.35 L412.44,330.13 L414.05,329.91 L415.66,329.69 L417.28,329.47 L418.89,329.25 L420.50,329.06 L422.11,328.93 L423.72,328.81 L425.33,328.68 L426.94,328.56 L428.55,328.44 L430.16,328.31 L431.78,328.19 L433.39,328.06 L435.00,327.94 L436.61,327.81 L438.22,327.69 L439.83,327.56 L441.44,327.42 L443.05,327.27 L444.67,327.12 L446.28,326.97 L447.89,326.82 L449.50,326.68 L451.11,326.53 L452.72,326.38 L454.33,326.23 L455.94,326.08 L457.56,325.93 L459.17,325.78 L460.78,325.60 L462.39,325.38 L464.00,325.16 L465.61,324.94 L467.22,324.72 L468.83,324.50 L470.44,324.27 L472.06,324.05 L473.67,323.83 L475.28,323.61 L476.89,323.39 L478.50,323.17 L480.11,322.95 L481.72,322.73 L483.33,322.51 L484.95,322.28 L486.56,322.06 L488.17,321.84 L489.78,321.62 L491.39,321.40 L493.00,321.18 L494.61,320.96 L496.22,320.74 L497.84,320.52 L499.45,320.30 L501.06,320.07 L502.67,319.85 L504.28,319.63 L505.89,319.41 L507.50,319.19 L509.11,318.97 L510.72,318.77 L512.34,318.61 L513.95,318.44 L515.56,318.28 L517.17,318.11 L518.78,317.94 L520.39,317.78 L522.00,317.61 L523.61,317.45 L525.23,317.28 L526.84,317.11 L528.45,316.95 L530.06,316.78 L531.67,316.62 L533.28,316.45 L534.89,316.29 L536.50,316.12 L538.12,315.95 L539.73,315.79 L541.34,315.62 L542.95,315.46 L544.56,315.29" stroke="#2c50ac" stroke-width="3.1" stroke-dasharray="11.8 3 5.9 3"/>
<path d="M61.20,390.21 L62.81,389.36 L64.42,388.51 L66.03,387.66 L67.64,386.81 L69.26,385.96 L70.87,385.11 L72.48,384.27 L74.09,383.42 L75.70,382.58 L77.31,381.73 L78.92,380.89 L80.53,380.05 L82.15,379.21 L83.76,378.37 L85.37,377.49 L86.98,376.57 L88.59,375.63 L90.20,374.72 L91.81,373.84 L93.42,373.04 L95.04,372.33 L96.65,371.75 L98.26,371.26 L99.87,370.82 L101.48,370.44 L103.09,370.08 L104.70,369.75 L106.31,369.45 L107.92,369.17 L109.54,368.91 L111.15,368.66 L112.76,368.44 L114.37,368.23 L115.98,368.02 L117.59,367.83 L119.20,367.64 L120.81,367.46 L122.43,367.27 L124.04,367.08 L125.65,366.89 L127.26,366.70 L128.87,366.52 L130.48,366.33 L132.09,366.14 L133.70,365.95 L135.32,365.76 L136.93,365.57 L138.54,365.38 L140.15,365.19 L141.76,365.01 L143.37,364.82 L144.98,364.63 L146.59,364.44 L148.20,364.25 L149.82,364.06 L151.43,363.87 L153.04,363.68 L154.65,363.49 L156.26,363.31 L157.87,363.12 L159.48,362.93 L161.09,362.74 L162.71,362.55 L164.32,362.36 L165.93,362.17 L167.54,361.98 L169.15,361.80 L170.76,361.61 L172.37,361.42 L173.98,361.23 L175.60,361.04 L177.21,360.85 L178.82,360.66 L180.43,360.47 L182.04,360.28 L183.65,360.10 L185.26,359.91 L186.87,359.72 L188.48,359.53 L190.10,359.34 L191.71,359.15 L193.32,358.96 L194.93,358.77 L196.54,358.58 L198.15,358.40 L199.76,358.21 L201.37,358.02 L202.99,357.83 L204.60,357.64 L206.21,357.45 L207.82,357.26 L209.43,357.07 L211.04,356.89 L212.65,356.70 L214.26,356.51 L215.88,356.32 L217.49,356.13 L219.10,355.94 L220.71,355.75 L222.32,355.56 L223.93,355.37 L225.54,355.19 L227.15,355.00 L228.76,354.81 L230.38,354.62 L231.99,354.43 L233.60,354.24 L235.21,354.05 L236.82,353.86 L238.43,353.68 L240.04,353.49 L241.65,353.30 L243.27,353.11 L244.88,352.92 L246.49,352.73 L248.10,352.54 L249.71,352.35 L251.32,352.16 L252.93,351.98 L254.54,351.79 L256.16,351.60 L257.77,351.41 L259.38,351.22 L260.99,351.03 L262.60,350.84 L264.21,350.65 L265.82,350.47 L267.43,350.28 L269.04,350.09 L270.66,349.90 L272.27,349.71 L273.88,349.52 L275.49,349.33 L277.10,349.14 L278.71,348.95 L280.32,348.77 L281.93,348.58 L283.55,348.39 L285.16,348.20 L286.77,348.01 L288.38,347.82 L289.99,347.63 L291.60,347.44 L293.21,347.25 L294.82,347.07 L296.44,346.88 L298.05,346.69 L299.66,346.50 L301.27,346.31 L302.88,346.12 L304.49,345.93 L306.10,345.74 L307.71,345.56 L309.32,345.37 L310.94,345.18 L312.55,344.99 L314.16,344.80 L315.77,344.61 L317.38,344.42 L318.99,344.23 L320.60,344.04 L322.21,343.86 L323.83,343.67 L325.44,343.48 L327.05,343.29 L328.66,343.10 L330.27,342.91 L331.88,342.72 L333.49,342.53 L335.10,342.35 L336.72,342.16 L338.33,341.97 L339.94,341.78 L341.55,341.59 L343.16,341.40 L344.77,341.21 L346.38,341.02 L347.99,340.83 L349.60,340.65 L351.22,340.46 L352.83,340.27 L354.44,340.08 L356.05,339.89 L357.66,339.70 L359.27,339.51 L360.88,339.32 L362.49,339.14 L364.11,338.95 L365.72,338.76 L367.33,338.57 L368.94,338.38 L370.55,338.19 L372.16,338.00 L373.77,337.81 L375.38,337.62 L377.00,337.44 L378.61,337.25 L380.22,337.06 L381.83,336.87 L383.44,336.68 L385.05,336.49 L386.66,336.30 L388.27,336.11 L389.88,335.93 L391.50,335.74 L393.11,335.55 L394.72,335.36 L396.33,335.17 L397.94,334.98 L399.55,334.79 L401.16,334.60 L402.77,334.41 L404.39,334.23 L406.00,334.04 L407.61,333.85 L409.22,333.66 L410.83,333.47 L412.44,333.28 L414.05,333.09 L415.66,332.90 L417.28,332.71 L418.89,332.53 L420.50,332.34 L422.11,332.15 L423.72,331.96 L425.33,331.77 L426.94,331.58 L428.55,331.39 L430.16,331.20 L431.78,331.02 L433.39,330.83 L435.00,330.64 L436.61,330.45 L438.22,330.26 L439.83,330.07 L441.44,329.88 L443.05,329.69 L444.67,329.50 L446.28,329.32 L447.89,329.13 L449.50,328.94 L451.11,328.75 L452.72,328.56 L454.33,328.37 L455.94,328.18 L457.56,327.99 L459.17,327.81 L460.78,327.62 L462.39,327.43 L464.00,327.24 L465.61,327.05 L467.22,326.86 L468.83,326.67 L470.44,326.48 L472.06,326.29 L473.67,326.11 L475.28,325.92 L476.89,325.73 L478.50,325.54 L480.11,325.35 L481.72,325.16 L483.33,324.97 L484.95,324.78 L486.56,324.60 L488.17,324.41 L489.78,324.22 L491.39,324.03 L493.00,323.84 L494.61,323.65 L496.22,323.46 L497.84,323.27 L499.45,323.08 L501.06,322.90 L502.67,322.71 L504.28,322.52 L505.89,322.33 L507.50,322.14 L509.11,321.95 L510.72,321.76 L512.34,321.57 L513.95,321.38 L515.56,321.20 L517.17,321.01 L518.78,320.82 L520.39,320.63 L522.00,320.44 L523.61,320.25 L525.23,320.06 L526.84,319.87 L528.45,319.69 L530.06,319.50 L531.67,319.31 L533.28,319.12 L534.89,318.93 L536.50,318.74 L538.12,318.55 L539.73,318.36 L541.34,318.17 L542.95,317.99 L544.56,317.80" stroke="#ec1c24" stroke-width="3.7"/>
</g>
<text transform="translate(20.3,73.8) rotate(-90)" text-anchor="middle" font-family="Liberation Serif, serif" font-size="20.5" font-style="italic" fill="#3c3c3c" textLength="41.4" lengthAdjust="spacing">x<tspan font-style="normal">(</tspan>m<tspan font-style="normal">)</tspan></text>
<text transform="translate(29.2,212.9) rotate(-90)" text-anchor="middle" font-family="Liberation Serif, serif" font-size="20.5" font-style="italic" fill="#3c3c3c" textLength="40" lengthAdjust="spacing">y<tspan font-style="normal">(</tspan>m<tspan font-style="normal">)</tspan></text>
<text transform="translate(33.2,355.6) rotate(-90)" text-anchor="middle" font-family="Liberation Serif, serif" font-size="20.5" font-style="italic" fill="#3c3c3c" textLength="59" lengthAdjust="spacing">ψ<tspan font-style="normal">(</tspan>rad<tspan font-style="normal">)</tspan></text>
<rect x="341.2" y="46.2" width="175.3" height="32.099999999999994" fill="#fff" stroke="#6a6a6a" stroke-width="1.2"/>
<line x1="373.2" y1="46.5" x2="447.8" y2="78.2" stroke="#ec1c24" stroke-width="3.7"/>
<line x1="392.8" y1="46.3" x2="468.9" y2="78" stroke="#2c50ac" stroke-width="3.1" stroke-dasharray="11.8 3 5.9 3"/>
<line x1="309.90" y1="64.60" x2="327.20" y2="64.60" stroke="#a8a8a8" stroke-width="2.2" stroke-dasharray="2.6 1.6"/>
<path d="M339.70,64.60 L324.70,70.20 L327.20,64.60 L324.70,59.00 Z" fill="#b3b3b3"/>
<rect x="226.7" y="209.9" width="173.60000000000002" height="32.5" fill="#fff" stroke="#6a6a6a" stroke-width="1.2"/>
<path d="M234.60,208.82 L237.16,209.51 L239.71,210.19 L242.27,210.87 L244.83,211.54 L247.38,212.20 L249.94,212.86 L252.50,213.51 L255.05,214.16 L257.61,214.79 L260.17,215.43 L262.72,216.05 L265.28,216.67 L267.84,217.29 L270.39,217.89 L272.95,218.49 L275.51,219.09 L278.06,219.67 L280.62,220.26 L283.18,220.83 L285.73,221.40 L288.29,221.96 L290.85,222.52 L293.40,223.07 L295.96,223.61 L298.52,224.15 L301.07,224.68 L303.63,225.20 L306.19,225.72 L308.74,226.23 L311.30,226.73 L313.86,227.23 L316.41,227.72 L318.97,228.21 L321.53,228.69 L324.08,229.16 L326.64,229.63 L329.20,230.09 L331.75,230.54 L334.31,230.99 L336.87,231.43 L339.42,231.86 L341.98,232.29 L344.54,232.71 L347.09,233.13 L349.65,233.54 L352.21,233.94 L354.76,234.34 L357.32,234.73 L359.88,235.11 L362.43,235.49 L364.99,235.86 L367.55,236.22 L370.10,236.58 L372.66,236.93 L375.22,237.28 L377.77,237.62 L380.33,237.95 L382.89,238.27 L385.44,238.59 L388.00,238.91" fill="none" stroke="#111" stroke-width="3.1" stroke-dasharray="12 12"/>
<path d="M254.40,210.13 L256.81,210.69 L259.21,211.25 L261.62,211.80 L264.03,212.35 L266.43,212.89 L268.84,213.43 L271.25,213.96 L273.65,214.49 L276.06,215.02 L278.47,215.54 L280.87,216.06 L283.28,216.57 L285.69,217.07 L288.09,217.58 L290.50,218.07 L292.91,218.57 L295.31,219.05 L297.72,219.54 L300.13,220.02 L302.53,220.49 L304.94,220.96 L307.35,221.42 L309.75,221.88 L312.16,222.34 L314.57,222.79 L316.97,223.24 L319.38,223.68 L321.79,224.11 L324.19,224.55 L326.60,224.97 L329.01,225.40 L331.41,225.82 L333.82,226.23 L336.23,226.64 L338.63,227.04 L341.04,227.44 L343.45,227.84 L345.85,228.23 L348.26,228.61 L350.67,228.99 L353.07,229.37 L355.48,229.74 L357.89,230.11 L360.29,230.47 L362.70,230.83 L365.11,231.18 L367.51,231.53 L369.92,231.87 L372.33,232.21 L374.73,232.55 L377.14,232.88 L379.55,233.20 L381.95,233.52 L384.36,233.84 L386.77,234.15 L389.17,234.46 L391.58,234.76 L393.99,235.06 L396.39,235.35 L398.80,235.64" fill="none" stroke="#2c50ac" stroke-width="3.1" stroke-dasharray="11.8 3 5.9 3"/>
<path d="M234.60,210.22 L237.28,210.96 L239.96,211.69 L242.64,212.42 L245.32,213.15 L248.00,213.86 L250.68,214.57 L253.36,215.27 L256.04,215.96 L258.72,216.65 L261.40,217.33 L264.08,218.00 L266.76,218.67 L269.44,219.33 L272.12,219.98 L274.80,220.62 L277.48,221.26 L280.16,221.89 L282.84,222.52 L285.52,223.13 L288.20,223.74 L290.88,224.35 L293.56,224.94 L296.24,225.53 L298.92,226.11 L301.60,226.69 L304.28,227.25 L306.96,227.82 L309.64,228.37 L312.32,228.92 L315.00,229.46 L317.68,229.99 L320.36,230.51 L323.04,231.03 L325.72,231.54 L328.40,232.05 L331.08,232.55 L333.76,233.04 L336.44,233.52 L339.12,234.00 L341.80,234.47 L344.48,234.93 L347.16,235.38 L349.84,235.83 L352.52,236.27 L355.20,236.71 L357.88,237.14 L360.56,237.56 L363.24,237.97 L365.92,238.38 L368.60,238.78 L371.28,239.17 L373.96,239.55 L376.64,239.93 L379.32,240.30 L382.00,240.67 L384.68,241.02 L387.36,241.38 L390.04,241.72 L392.72,242.05 L395.40,242.38" fill="none" stroke="#ec1c24" stroke-width="3.7"/>
<line x1="494.50" y1="239.10" x2="416.42" y2="230.04" stroke="#a8a8a8" stroke-width="2.2" stroke-dasharray="2.6 1.6"/>
<path d="M404.00,228.60 L419.55,224.77 L416.42,230.04 L418.25,235.89 Z" fill="#b3b3b3"/>
<rect x="335.9" y="349.9" width="174.5" height="32.200000000000045" fill="#fff" stroke="#6a6a6a" stroke-width="1.2"/>
<line x1="336" y1="360.2" x2="510" y2="357.0" stroke="#111" stroke-width="3.1" stroke-dasharray="12 12"/>
<line x1="336" y1="358.9" x2="510" y2="355" stroke="#ec1c24" stroke-width="3.7"/>
<line x1="336" y1="372.6" x2="510" y2="367.1" stroke="#2c50ac" stroke-width="3.1" stroke-dasharray="11.8 3 5.9 3"/>
<line x1="300.40" y1="355.10" x2="321.83" y2="366.81" stroke="#a8a8a8" stroke-width="2.2" stroke-dasharray="2.6 1.6"/>
<path d="M332.80,372.80 L316.95,370.52 L321.83,366.81 L322.32,360.69 Z" fill="#b3b3b3"/>
<rect x="33.2" y="3.8" width="513.3" height="25.1" fill="#fff" stroke="#5e5e5e" stroke-width="1.2"/>
<line x1="37.3" y1="16.4" x2="73" y2="16.4" stroke="#111" stroke-width="2.8" stroke-dasharray="12 12"/>
<text x="87" y="20.7" font-family="Liberation Serif, serif" font-size="19" fill="#111" stroke="#111" stroke-width="0.3" textLength="79" lengthAdjust="spacingAndGlyphs">Trajectory</text>
<line x1="176" y1="16.3" x2="220.6" y2="16.3" stroke="#2c50ac" stroke-width="2.8" stroke-dasharray="11.8 3 5.9 3"/>
<text x="224.5" y="20.7" font-family="Liberation Serif, serif" font-size="19" fill="#111" stroke="#111" stroke-width="0.3" textLength="148" lengthAdjust="spacingAndGlyphs">Backstepping-TTC</text>
<line x1="381" y1="16.3" x2="425.6" y2="16.3" stroke="#ec1c24" stroke-width="3.2"/>
<text x="429.3" y="20.7" font-family="Liberation Serif, serif" font-size="19" fill="#111" stroke="#111" stroke-width="0.3" textLength="114" lengthAdjust="spacingAndGlyphs">FTFISM-TTC</text>
</svg></body></html>
